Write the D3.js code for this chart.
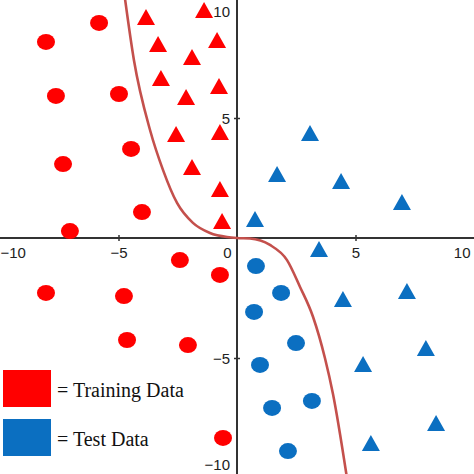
<!DOCTYPE html>
<html>
<head>
<meta charset="utf-8">
<script src="https://cdn.jsdelivr.net/npm/d3@7"></script>
<style>
body { margin: 0; background: #fff; }
.axis path, .axis line { stroke: #333; }
.axis text { font-family: "Liberation Sans", Arial, sans-serif; font-size: 15px; fill: #222; }
.legend text { font-family: "Liberation Serif", "Times New Roman", serif; font-size: 20px; fill: #111; }
</style>
</head>
<body>
<div id="chart"></div>
<script>
var w = 474;
var h = 474;

// training data (red): circles and triangles
var trainCircleX = [-8.06, -5.82, -7.64, -4.98, -7.34, -4.47, -4.01, -7.05, -2.41, -0.72, -8.06, -4.77, -4.64, -2.07, -0.59];
var trainCircleY = [8.17, 8.96, 5.92, 6.0, 3.08, 3.71, 1.08, 0.29, -0.92, -1.54, -2.29, -2.42, -4.25, -4.46, -8.33];
var trainTriX = [-3.84, -1.39, -3.33, -0.84, -1.90, -3.21, -2.15, -0.76, -2.57, -0.72, -1.90, -0.72, -0.63];
var trainTriY = [9.21, 9.5, 8.08, 8.25, 7.54, 6.67, 5.88, 6.33, 4.33, 4.42, 2.96, 2.04, 0.71];

// test data (blue)
var testCircleX = [0.80, 1.86, 0.72, 2.49, 0.97, 3.16, 1.48, 2.15];
var testCircleY = [-1.17, -2.29, -3.08, -4.38, -5.29, -6.79, -7.08, -8.88];
var testTriX = [3.08, 1.69, 4.39, 6.96, 0.76, 3.46, 4.47, 7.17, 7.97, 5.32, 8.40, 5.65];
var testTriY = [4.38, 2.67, 2.38, 1.5, 0.79, -0.46, -2.54, -2.21, -4.58, -5.25, -7.71, -8.54];

// boundary curve
var curveX = [-4.73, -4.35, -3.67, -3.12, -2.53, -1.86, -1.14, -0.42, 0, 0.55, 1.39, 2.11, 2.66, 3.21, 3.71, 4.05, 4.64];
var curveY = [10, 7.42, 4.5, 2.83, 1.46, 0.63, 0.21, 0.04, 0, -0.02, -0.29, -0.92, -2.04, -3.29, -5.0, -6.5, -10];

var xTicks = [-10, -5, 0, 5, 10];
var yTicks = [-10, -5, 5, 10];

var legendLabels = ["= Training Data", "= Test Data"];

var red = "#ff0000";
var blue = "#0b6fc1";

var svg = d3.select("#chart")
            .append("svg")
            .attr("width", w)
            .attr("height", h);

var xScale = d3.scaleLinear().domain([-10, 10]).range([0, 474]);
var yScale = d3.scaleLinear().domain([-10, 10]).range([478, -2]);

function zip(xs, ys){ return xs.map(function(x, i){ return {x: x, y: ys[i]}; }); }

// axes through the origin
var xAxis = d3.axisBottom(xScale).tickValues(xTicks).tickSize(3).tickSizeOuter(0).tickPadding(6);
var yAxis = d3.axisLeft(yScale).tickValues(yTicks).tickSize(3).tickSizeOuter(0).tickPadding(6);

var gx = svg.append("g")
        .attr("class", "axis")
        .attr("transform", "translate(0," + yScale(0) + ")")
        .call(xAxis);
gx.select(".domain").attr("stroke-width", 2).attr("d", "M0,0H" + w);
gx.selectAll(".tick line").attr("y1", -3).attr("y2", 3).attr("stroke-width", 1.5)
    .filter(function(d){ return Math.abs(d) !== 5; }).remove();
gx.selectAll(".tick text")
    .attr("dy", "0.75em")
    .attr("text-anchor", function(d){ return d === -10 ? "start" : (d === 10 || d === 0) ? "end" : "middle"; })
    .attr("dx", function(d){ return d === 0 ? -5 : d === 10 ? -4 : 0; })
    .attr("x", 0);
gx.selectAll(".tick").filter(function(d){ return d === 0; }).select("text").attr("x", -1);

var gy = svg.append("g")
        .attr("class", "axis")
        .attr("transform", "translate(" + xScale(0) + ",0)")
        .call(yAxis);
gy.select(".domain").attr("stroke-width", 2).attr("d", "M0,0V" + h);
gy.selectAll(".tick line").attr("x1", -3).attr("x2", 3).attr("stroke-width", 1.5)
    .filter(function(d){ return Math.abs(d) !== 5; }).remove();
gy.selectAll(".tick text")
    .attr("x", -7)
    .attr("dy", function(d){ return d === 10 ? "1.2em" : d === -10 ? "-0.6em" : "0.34em"; });

// decision curve
var line = d3.line()
        .x(function(d){ return xScale(d.x); })
        .y(function(d){ return yScale(d.y); })
        .curve(d3.curveMonotoneX);

svg.append("path")
    .datum(zip(curveX, curveY))
    .attr("fill", "none")
    .attr("stroke", "#c4504c")
    .attr("stroke-width", 2.6)
    .attr("d", line);

// markers
function circles(data, color){
    svg.append("g").selectAll("ellipse")
        .data(data).enter().append("ellipse")
        .attr("cx", function(d){ return xScale(d.x); })
        .attr("cy", function(d){ return yScale(d.y); })
        .attr("rx", 9)
        .attr("ry", 8)
        .attr("fill", color);
}
function triangles(data, color){
    svg.append("g").selectAll("path")
        .data(data).enter().append("path")
        .attr("transform", function(d){ return "translate(" + xScale(d.x) + "," + yScale(d.y) + ")"; })
        .attr("d", "M0,-8L9,8L-9,8Z")
        .attr("fill", color);
}
circles(zip(trainCircleX, trainCircleY), red);
triangles(zip(trainTriX, trainTriY), red);
circles(zip(testCircleX, testCircleY), blue);
triangles(zip(testTriX, testTriY), blue);

// legend
var legend = svg.append("g").attr("class", "legend");
var legendColors = [red, blue];
legendLabels.forEach(function(label, i){
    legend.append("rect")
        .attr("x", 3)
        .attr("y", 370 + i * 49)
        .attr("width", 48)
        .attr("height", 37)
        .attr("fill", legendColors[i]);
    legend.append("text")
        .attr("x", 57)
        .attr("y", 397 + i * 49)
        .text(label);
});
</script>
</body>
</html>
